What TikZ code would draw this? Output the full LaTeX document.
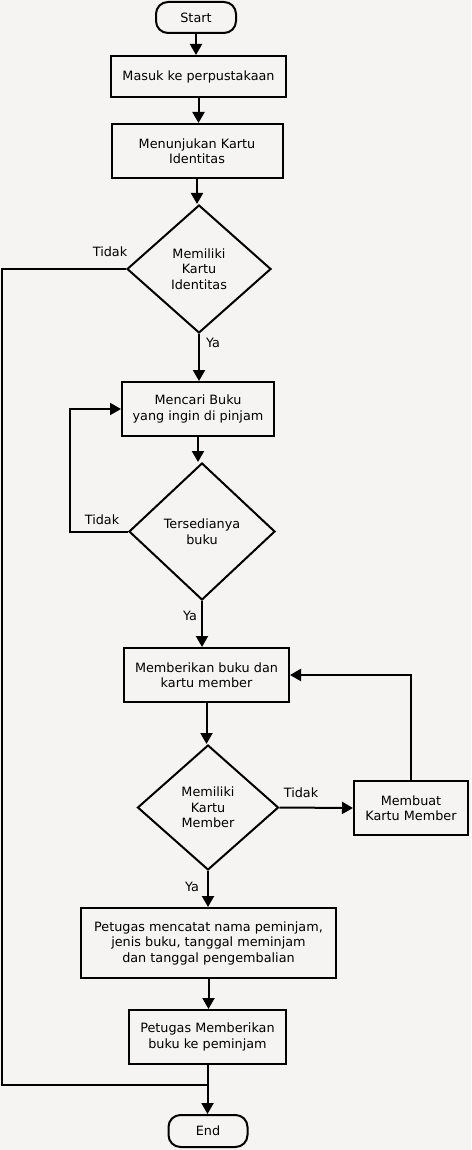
\documentclass[tikz,border=0pt]{standalone}
\usepackage{fontspec}
\setmainfont{DejaVu Sans}
\usetikzlibrary{shapes.geometric, arrows.meta}
\definecolor{paperGrey}{RGB}{245,244,243}

\begin{document}
\begin{tikzpicture}[x=1pt, y=-1pt,
	every node/.style={font=\fontsize{12.8pt}{15.5pt}\selectfont, align=center, inner sep=0pt},
	step box/.style={draw, line width=2pt, rectangle},
	ends/.style={draw, line width=2pt, rectangle, rounded corners=12pt},
	choice/.style={draw, line width=2pt, diamond},
	flow/.style={line width=2pt, -{Triangle[length=11pt, width=12pt]}},
	plain/.style={line width=2pt}]

% Background and margins.

	\fill[paperGrey] (0,0) rectangle (471,1150);
	\useasboundingbox (0,0) rectangle (471,1150);

% Define nodes.

	%top column
	\node[ends, minimum width=80pt, minimum height=31pt] (start) at (196, 17.5) {Start};
	\node[step box, minimum width=175pt, minimum height=41pt] (enter) at (198.5, 76.5) {Masuk ke perpustakaan};
	\node[step box, minimum width=171pt, minimum height=54pt] (showCard) at (197, 151) {Menunjukan Kartu\\Identitas};
	\node[choice, minimum width=144pt, minimum height=128pt] (hasId) at (199, 269) {Memiliki\\Kartu\\Identitas};

	%search loop
	\node[step box, minimum width=152pt, minimum height=54pt] (search) at (198, 409) {Mencari Buku\\yang ingin di pinjam};
	\node[choice, minimum width=146pt, minimum height=137pt] (available) at (202, 531.5) {Tersedianya\\buku};

	%member loop
	\node[step box, minimum width=165pt, minimum height=54pt] (give) at (206.5, 675) {Memberikan buku dan\\kartu member};
	\node[choice, minimum width=141pt, minimum height=125pt] (hasMember) at (208, 807.5) {Memiliki\\Kartu\\Member};
	\node[step box, minimum width=114pt, minimum height=54pt] (makeMember) at (411, 808) {Membuat\\Kartu Member};

	%bottom column
	\node[step box, minimum width=255pt, minimum height=70pt] (record) at (208.5, 943) {Petugas mencatat nama peminjam,\\jenis buku, tanggal meminjam\\dan tanggal pengembalian};
	\node[step box, minimum width=157pt, minimum height=54pt] (hand) at (207.5, 1037) {Petugas Memberikan\\buku ke peminjam};
	\node[ends, minimum width=79pt, minimum height=32pt] (end) at (208, 1131) {End};

	%turning points
	\coordinate (farLeft) at (2, 269);
	\coordinate (joinEnd) at (208, 1085);
	\coordinate (loopBack) at (70, 531.5);

% Draw arrows.

	\draw[flow] (start.south) -- (start.south |- enter.north);
	\draw[flow] (enter.south) -- (enter.south |- showCard.north);
	\draw[flow] (showCard.south) -- (showCard.south |- hasId.north);
	\draw[flow] (hasId.south) -- (hasId.south |- search.north);
	\draw[flow] (search.south) -- (search.south |- available.north);
	\draw[flow] (available.south) -- (available.south |- give.north);
	\draw[flow] (give.south) -- (give.south |- hasMember.north);
	\draw[flow] (hasMember.east) -- (makeMember.west);
	\draw[flow] (hasMember.south) -- (hasMember.south |- record.north);
	\draw[flow] (record.south) -- (record.south |- hand.north);
	\draw[flow] (hand.south) -- (hand.south |- end.north);

	\draw[flow] (available.west) -- (loopBack) |- (search.west);
	\draw[flow] (makeMember.north) |- (give.east);
	\draw[plain] (hasId.west) -- (farLeft) |- (joinEnd);

% Draw labels.

	\node (noId) at (110, 252) {Tidak};
	\node (yesId) at (213, 343) {Ya};
	\node (noBook) at (102, 520) {Tidak};
	\node (yesBook) at (190, 616) {Ya};
	\node (noMember) at (301, 793) {Tidak};
	\node (yesMember) at (192, 887) {Ya};

\end{tikzpicture}
\end{document}
